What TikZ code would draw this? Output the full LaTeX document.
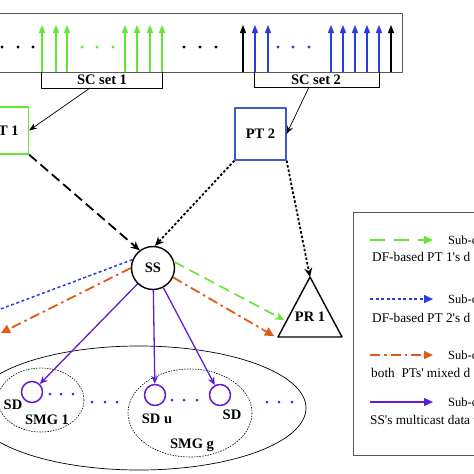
\documentclass[tikz,border=0pt]{standalone}
\usepackage{fontspec}
\setmainfont{Liberation Serif}
\usetikzlibrary{arrows.meta}
\definecolor{limegreen}{RGB}{100,230,50}
\definecolor{royalblue}{RGB}{40,60,225}
\definecolor{steelblue}{RGB}{60,90,200}
\definecolor{burntorange}{RGB}{225,90,25}
\definecolor{ssviolet}{RGB}{95,30,210}
\begin{document}
\begin{tikzpicture}[x=1pt,y=-1pt,line join=round,
  lbl/.style={font=\fontsize{14.5}{16}\selectfont\bfseries,inner sep=0pt},
  legtxt/.style={font=\fontsize{13.3}{15}\selectfont,anchor=west,inner sep=0pt},
  legsub/.style={font=\fontsize{12.5}{14}\selectfont,anchor=west,inner sep=0pt},
  sdnode/.style={circle,draw=ssviolet,line width=1.5pt,minimum size=21pt,inner sep=0pt},
  scarrow/.style={line width=1.2pt,-{Triangle[length=8pt,width=6pt]}},
  bigtip/.style={-{Stealth[length=9pt,width=8pt]}}]
\useasboundingbox (0,0) rectangle (474,474);
\clip (0,0) rectangle (474,474);
% sub-carrier bar
\draw[gray!70!black,line width=0.8pt] (-5,13) rectangle (402,72);
\foreach \x in {42,56,67,125,137,150,162}
  \draw[scarrow,limegreen] (\x,72) -- (\x,25);
\foreach \x in {255,268,331,343,355,367,379}
  \draw[scarrow,royalblue] (\x,72) -- (\x,25);
\foreach \x in {243,391}
  \draw[scarrow,black] (\x,72) -- (\x,25);
\foreach \x in {2,18,33,184,200,216}
  \fill (\x,47) circle (1.6);
\foreach \x in {82,97,113}
  \fill[limegreen] (\x,47) circle (1.6);
\foreach \x in {278,293,309}
  \fill[royalblue] (\x,47) circle (1.6);
\draw[line width=0.8pt] (41,72) -- (41,88) -- (162,88) -- (162,72);
\draw[line width=0.8pt] (254,72) -- (254,87) -- (379,87) -- (379,72);
\node[lbl] (sc1) at (102,80) {SC set 1};
\node[lbl] (sc2) at (316,80) {SC set 2};
\coordinate (b1) at (90,88);
\coordinate (b2) at (309,87);
% transmitters, receivers
\node[lbl,draw=limegreen,line width=1.2pt,minimum width=49pt,minimum height=47pt] (pt1) at (4,130.5) {PT 1};
\node[lbl,draw=steelblue,line width=1.2pt,minimum width=51pt,minimum height=52pt] (pt2) at (260.5,134) {PT 2};
\node[lbl,circle,draw,line width=1.4pt,minimum size=43pt] (ss) at (153,268) {SS};
\coordinate (pra) at (310,277);
\coordinate (prl) at (278,337);
\coordinate (prr) at (342,337);
\draw[line width=1.4pt] (pra) -- (prl) -- (prr) -- cycle;
\node[lbl] (pr1) at (310,317) {PR 1};
\draw[line width=0.7pt,-{Stealth[length=8pt,width=6pt]}] (b1) -- (pt1.east);
\draw[line width=0.7pt,-{Stealth[length=8pt,width=6pt]}] (b2) -- (pt2.east);
\draw[bigtip,line width=1.8pt,dash pattern=on 10pt off 5pt] (pt1.south east) -- (ss.127);
\draw[bigtip,line width=1.8pt,dash pattern=on 2.5pt off 2pt] (pt2.south west) -- (ss.85);
\draw[bigtip,line width=1.8pt,dash pattern=on 2.5pt off 2pt] (pt2.south east) -- (pra);
% links out of SS
\coordinate (gend) at (284,320);
\coordinate (oend) at (274,336);
\coordinate (bend) at (-10,313);
\coordinate (olend) at (1,333);
\draw[limegreen,line width=1.6pt,dash pattern=on 11pt off 6pt,-{Stealth[length=9pt,width=8pt]}] (ss.16) -- (gend);
\draw[burntorange,line width=1.8pt,dash pattern=on 10pt off 4pt on 2.5pt off 4pt,-{Triangle[length=9pt,width=9pt]}] (ss.-25) -- (oend);
\draw[royalblue,line width=1.5pt,dash pattern=on 3pt off 2.5pt] (ss.158) -- (bend);
\draw[burntorange,line width=1.8pt,dash pattern=on 10pt off 4pt on 2.5pt off 4pt,-{Triangle[length=9pt,width=9pt]}] (ss.180) -- (olend);
% secondary multicast groups
\draw[line width=0.7pt] (139,408) ellipse [x radius=167,y radius=62];
\draw[line width=0.6pt,dash pattern=on 1.5pt off 1.2pt] (41,400) ellipse [x radius=43,y radius=32];
\draw[line width=0.6pt,dash pattern=on 1.5pt off 1.2pt] (190,413) ellipse [x radius=62,y radius=44];
\node[sdnode] (sd1) at (32,392) {};
\node[sdnode] (sdu) at (155,395) {};
\node[sdnode] (sdg) at (220,395) {};
\draw[ssviolet,line width=1.3pt,-{Stealth[length=8pt,width=7pt]}] (ss) -- (sd1);
\draw[ssviolet,line width=1.3pt,-{Stealth[length=8pt,width=7pt]}] (ss) -- (sdu);
\draw[ssviolet,line width=1.3pt,-{Stealth[length=8pt,width=7pt]}] (ss) -- (sdg);
\foreach \x in {50,61,73}
  \fill[ssviolet] (\x,394) circle (1.5);
\foreach \x in {92,105,117,267,279,292}
  \fill[ssviolet] (\x,402) circle (1.5);
\foreach \x in {172,184,197}
  \fill[ssviolet] (\x,400) circle (1.5);
\node[lbl] (sd1lbl) at (13,405) {SD};
\node[lbl] (smg1) at (47,420) {SMG 1};
\node[lbl] (sdulbl) at (157,419) {SD u};
\node[lbl] (sdglbl) at (232,415) {SD};
\node[lbl] (smgg) at (192,445) {SMG g};
% legend
\draw[gray!70!black,line width=0.8pt] (353,212) rectangle (495,455);
\draw[limegreen,line width=1.6pt,dash pattern=on 15pt off 9pt,-{Triangle[length=9pt,width=8pt]}] (370,240) -- (433,240);
\draw[royalblue,line width=1.6pt,dash pattern=on 3pt off 2.5pt,-{Triangle[length=9pt,width=8pt]}] (370,299) -- (433,299);
\draw[burntorange,line width=1.8pt,dash pattern=on 10pt off 4pt on 2.5pt off 4pt,-{Triangle[length=9pt,width=8pt]}] (370,355) -- (433,355);
\draw[ssviolet,line width=1.3pt,-{Triangle[length=9pt,width=8pt]}] (370,402) -- (433,402);
\node[legsub] (leg1) at (448,240) {Sub-c};
\node[legtxt] (leg1b) at (372,257) {DF-based PT 1\textquotesingle s d};
\node[legsub] (leg2) at (448,299) {Sub-c};
\node[legtxt] (leg2b) at (372,318) {DF-based PT 2\textquotesingle s d};
\node[legsub] (leg3) at (448,355) {Sub-c};
\node[legtxt] (leg3b) at (371,373) {both\ \ PTs\textquotesingle{} mixed d};
\node[legsub] (leg4) at (448,402) {Sub-c};
\node[legtxt] (leg4b) at (370,420) {SS\textquotesingle s multicast data t};
\end{tikzpicture}
\end{document}
